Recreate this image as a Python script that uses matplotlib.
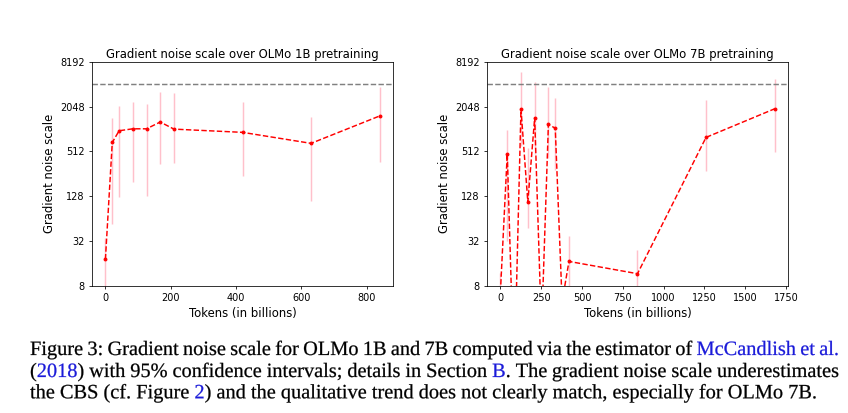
import matplotlib
matplotlib.use("Agg")
import matplotlib.pyplot as plt
import numpy as np
from matplotlib.textpath import TextPath
from matplotlib.font_manager import FontProperties
from matplotlib.patches import PathPatch
from matplotlib.transforms import Affine2D

# ---------------- data ----------------
tokens_1b = [0, 21, 42, 84, 126, 168, 210, 420, 630, 840]
gns_1b = [18.2, 675, 970, 1030, 1030, 1270, 1020, 923, 657, 1530]
gns_1b_lo = [2.0, 54, 126, 197, 131, 342, 357, 242, 111, 365]
gns_1b_hi = [35.6, 1420, 2070, 2350, 2240, 3240, 3100, 2340, 1470, 3710]

tokens_7b = [0, 42, 84, 126, 168, 210, 252, 294, 336, 378, 420, 840, 1260, 1680]
gns_7b = [6.6, 478, 0.4, 1900, 107, 1450, 2.0, 1180, 1050, 4.9, 17.1, 11.7, 790, 1910]
gns_7b_lo = [3.0, 32, 0.05, 610, 48.5, 480, 0.5, 413, 288, 2.0, 5.0, 5.0, 282, 498]
gns_7b_hi = [11.8, 988, 1.0, 5880, 564, 4420, 6.0, 3710, 2700, 7.0, 37.5, 24.3, 2500, 4800]

cbs_ref = 4096
yticks = [8, 32, 128, 512, 2048, 8192]
xticks_1b = [0, 200, 400, 600, 800]
xticks_7b = [0, 250, 500, 750, 1000, 1250, 1500, 1750]
titles = ["Gradient noise scale over OLMo 1B pretraining",
          "Gradient noise scale over OLMo 7B pretraining"]
xlabel = "Tokens (in billions)"
ylabel = "Gradient noise scale"

blue = "#1a1ad9"
caption_lines = [
    [("Figure 3: Gradient noise scale for OLMo 1B and 7B computed via the estimator of ", "k"),
     ("McCandlish et al.", blue)],
    [("(", "k"), ("2018", blue), (") with 95% confidence intervals; details in Section ", "k"),
     ("B", blue), (". The gradient noise scale underestimates", "k")],
    [("the CBS (cf. Figure ", "k"), ("2", blue),
     (") and the qualitative trend does not clearly match, especially for OLMo 7B.", "k")],
]

# ---------------- figure ----------------
W, H, DPI = 848, 413, 70
fig = plt.figure(figsize=(W / DPI, H / DPI), dpi=DPI)

def px_axes(x0, x1, ytop, ybot):
    return [x0 / W, (H - ybot) / H, (x1 - x0) / W, (ybot - ytop) / H]

ax1 = fig.add_axes(px_axes(91.7, 393.3, 61.7, 286))
ax2 = fig.add_axes(px_axes(486.7, 788.3, 61.7, 286))

for ax, x, y, lo, hi, title, xt in [
    (ax1, tokens_1b, gns_1b, gns_1b_lo, gns_1b_hi, titles[0], xticks_1b),
    (ax2, tokens_7b, gns_7b, gns_7b_lo, gns_7b_hi, titles[1], xticks_7b),
]:
    y = np.array(y); lo = np.array(lo); hi = np.array(hi)
    ax.errorbar(x, y, yerr=[y - lo, hi - y], fmt="r.--", ecolor="pink",
                elinewidth=1.5, capsize=0)
    ax.axhline(cbs_ref, color="gray", linestyle="--")
    ax.set_yscale("log", base=2)
    ax.set_ylim(8, 8192)
    ax.set_yticks(yticks)
    ax.set_yticklabels([str(t) for t in yticks])
    ax.minorticks_off()
    ax.set_xticks(xt)
    ax.set_xlim(-0.05 * max(x), 1.05 * max(x))
    ax.set_title(title, pad=4)
    ax.set_xlabel(xlabel, fontsize=12)
    ax.set_ylabel(ylabel, fontsize=12)

# ---------------- caption (glyph outlines, exact placement) ----------------
prop = FontProperties(family="Liberation Serif")
PT_PER_PX = 72.0 / DPI

def right_ink(t, fs):
    return TextPath((0, 0), t, size=fs, prop=prop).get_extents().x1

def adv(s, fs):
    # advance width (points) of string s
    return right_ink(s + "x", fs) - right_ink("x", fs) if s else 0.0

def pieces(segs):
    out = []
    full = ""
    for txt, col in segs:
        parts = txt.split(" ")
        for i, p in enumerate(parts):
            if i > 0:
                full += " "
            if p:
                out.append((full, p, col, full.count(" ")))
                full += p
    return out, full

left_px, right_px = 30, 839
last_line_end = 817
baselines = [355, 377, 398.3]

fs = 21.5
_, full3 = pieces(caption_lines[2])
fs = fs * (last_line_end - left_px) * PT_PER_PX / adv(full3, fs)

for li, segs in enumerate(caption_lines):
    plist, full = pieces(segs)
    nat_pt = adv(full, fs)
    nspace = full.count(" ")
    if li < len(caption_lines) - 1:
        extra = ((right_px - left_px) * PT_PER_PX - nat_pt) / nspace
    else:
        extra = 0.0
    y_pt = (H - baselines[li]) * PT_PER_PX
    for prefix, p, col, k in plist:
        x_pt = left_px * PT_PER_PX + adv(prefix, fs) + k * extra
        tp = TextPath((0, 0), p, size=fs, prop=prop)
        tr = Affine2D().translate(x_pt, y_pt).scale(1 / 72.0) + fig.dpi_scale_trans
        patch = PathPatch(tp, facecolor=col, edgecolor=col, linewidth=0.25,
                          transform=tr)
        fig.add_artist(patch)

fig.savefig("out.png", dpi=DPI)
